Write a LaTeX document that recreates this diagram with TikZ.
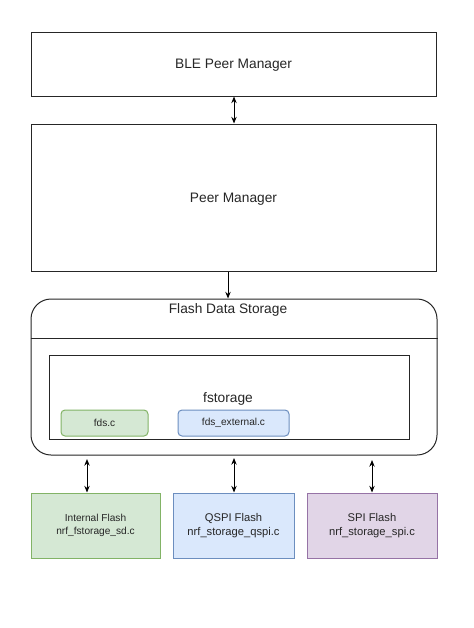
\documentclass[tikz,border=0pt]{standalone}
\usepackage{fontspec}
\setmainfont{Liberation Sans}
\usetikzlibrary{arrows.meta}
\definecolor{gfill}{HTML}{D5E8D4}\definecolor{gdraw}{HTML}{82B366}
\definecolor{bfill}{HTML}{DAE8FC}\definecolor{bdraw}{HTML}{6C8EBF}
\definecolor{pfill}{HTML}{E1D5E7}\definecolor{pdraw}{HTML}{9673A6}
\begin{document}
\begin{tikzpicture}[x=0.75pt,y=-0.75pt,
  box/.style={draw=black!85,line width=0.75pt,minimum width=#1,inner sep=0pt},
  lbl/.style={font=\fontsize{10.3}{12}\selectfont,text=black!85},
  small/.style={font=\fontsize{7.6}{9.5}\selectfont,align=center,text=black!85},
  conn/.style={line width=0.75pt,{Stealth[length=5pt,width=4pt]}-{Stealth[length=5pt,width=4pt]}},
  conn1/.style={line width=0.75pt,-{Stealth[length=5pt,width=4pt]}}]
\useasboundingbox[fill=white] (0,0) rectangle (474,628);
\node[box=405*0.75pt,minimum height=64*0.75pt] (ble) at (233.5,64) {};
\node[lbl] (blel) at (233.5,65.5) {BLE Peer Manager};
\node[box=405*0.75pt,minimum height=147*0.75pt] (pm) at (233.5,197.5) {};
\node[lbl] (pml) at (233.5,199) {Peer Manager};
\node[box=406*0.75pt,minimum height=156*0.75pt,rounded corners=15pt] (fds) at (234,377) {};
\draw[draw=black!85,line width=0.75pt] (fds.west |- 0,338) coordinate (sl) -- (fds.east |- sl);
\node[lbl] (fdst) at (228,309.5) {Flash Data Storage};
\node[box=360*0.75pt,minimum height=84*0.75pt] (fst) at (229,397) {};
\node[lbl] (fstl) at (228,399) {fstorage};
\node[box=87*0.75pt,minimum height=26*0.75pt,draw=gdraw,fill=gfill,rounded corners=3pt,small] (fdsc) at (104.5,423) {fds.c};
\node[box=111*0.75pt,minimum height=26*0.75pt,draw=bdraw,fill=bfill,rounded corners=3pt,small] (fdse) at (233.5,423) {fds\_external.c};
\node[box=129*0.75pt,minimum height=65*0.75pt,draw=gdraw,fill=gfill,small] (int) at (95.5,525.5) {Internal Flash\\nrf\_fstorage\_sd.c};
\node[box=121*0.75pt,minimum height=65*0.75pt,draw=bdraw,fill=bfill,small,font=\fontsize{8.4}{10}\selectfont] (qspi) at (233.5,525.5) {QSPI Flash\\nrf\_storage\_qspi.c};
\node[box=130*0.75pt,minimum height=65*0.75pt,draw=pdraw,fill=pfill,small,font=\fontsize{8.4}{10}\selectfont] (spi) at (372,525.5) {SPI Flash\\nrf\_storage\_spi.c};
\coordinate (a0) at (234,0);
\draw[conn] (ble.south -| a0) -- (pm.north -| a0);
\coordinate (p0) at (228,0);
\draw[conn1] (pm.south -| p0) -- (fds.north -| p0);
\coordinate (a1) at (87,459);
\coordinate (a2) at (234,458);
\coordinate (a3) at (372,460);
\draw[conn] (a1) -- (int.north -| a1);
\draw[conn] (a2) -- (qspi.north -| a2);
\draw[conn] (a3) -- (spi.north -| a3);
\end{tikzpicture}
\end{document}
